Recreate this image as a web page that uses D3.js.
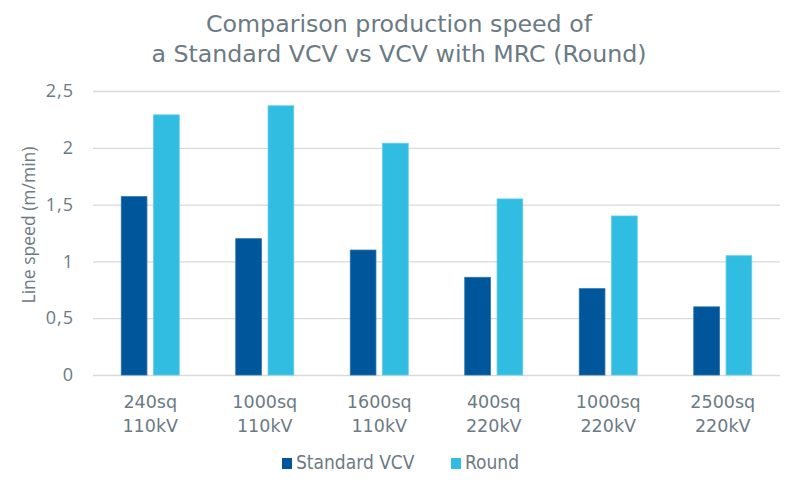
<!DOCTYPE html>
<html><head><meta charset="utf-8">
<script src="https://cdn.jsdelivr.net/npm/d3@7"></script>
<style>body{margin:0;background:#fff}</style>
</head><body>
<svg id="c" width="794" height="485"></svg>
<script>
const categories = [["240sq","110kV"],["1000sq","110kV"],["1600sq","110kV"],["400sq","220kV"],["1000sq","220kV"],["2500sq","220kV"]];
const seriesNames = ["Standard VCV","Round"];
const standardVCV = [1.57,1.2,1.1,0.86,0.76,0.6];
const round = [2.29,2.37,2.04,1.55,1.40,1.05];
const yTicks = [0,0.5,1,1.5,2,2.5];
const yTickLabels = ["0","0,5","1","1,5","2","2,5"];
const titleLines = ["Comparison production speed of","a Standard VCV vs VCV with MRC (Round)"];

const colors = ["#00569A","#31BCE2"];
const strokes = ["#2a70ab","#5fcdea"];
const textColor = "#6b7a83";
const titleFont = "'DejaVu Sans',sans-serif";
const condFont = "'DejaVu Sans Condensed','DejaVu Sans',sans-serif";
const sansFont = "'Open Sans','Noto Sans',sans-serif";

const svg = d3.select("#c");
const m = {left:93, right:14, top:91, bottom:110};
const W = 794, H = 485;
const x = d3.scaleBand().domain(d3.range(categories.length)).range([m.left, W-m.right]).paddingInner(0).paddingOuter(0);
const y = d3.scaleLinear().domain([0,2.5]).range([375, 91]);

// title
svg.append("g").selectAll("text").data(titleLines).join("text")
  .attr("x", 399).attr("y", (d,i)=>32+i*30).attr("text-anchor","middle")
  .attr("font-family", titleFont).attr("font-size", 23.7).attr("fill", textColor).text(d=>d);

// gridlines
svg.append("g").selectAll("line").data(yTicks).join("line")
  .attr("x1", m.left).attr("x2", W-m.right).attr("y1", d=>y(d)+0.5).attr("y2", d=>y(d)+0.5)
  .attr("stroke","#d9d9d9").attr("stroke-width",1.3);

// y axis labels
const yAxis = d3.axisLeft(y).tickValues(yTicks).tickFormat((d,i)=>yTickLabels[i]).tickSize(0).tickPadding(19);
const ya = svg.append("g").attr("transform",`translate(${m.left},0)`).call(yAxis);
ya.select(".domain").remove();
ya.selectAll("text").attr("font-family", sansFont).attr("font-size", 18).attr("letter-spacing", 1).attr("fill", textColor);

// y title
svg.append("text").attr("transform","translate(35,225) rotate(-90)").attr("text-anchor","middle")
  .attr("font-family", sansFont).attr("font-size", 17.5).attr("fill", textColor).text("Line speed (m/min)");

// bars
const barW = 25.7, gap = 6.6;
const data = [standardVCV, round];
data.forEach((vals, s) => {
  svg.append("g").selectAll("rect").data(vals).join("rect")
    .attr("x", (d,i)=> x(i) + x.bandwidth()/2 + (s===0 ? -gap/2 - barW : gap/2))
    .attr("y", d=>y(d)).attr("width", barW).attr("height", d=>y(0)-y(d))
    .attr("fill", colors[s]).attr("stroke", strokes[s]).attr("stroke-width", 0.8);
});

// x labels
const xl = svg.append("g").selectAll("text").data(categories).join("text")
  .attr("x",(d,i)=>x(i)+x.bandwidth()/2).attr("text-anchor","middle")
  .attr("font-family", titleFont).attr("font-size", 17.5).attr("fill", textColor);
xl.each(function(d){
  const t = d3.select(this);
  d.forEach((line,j)=> t.append("tspan").attr("x", t.attr("x")).attr("y", 408 + j*24).text(line));
});

// legend
const legX = [282, 451];
const lg = svg.append("g").selectAll("g").data(seriesNames).join("g")
  .attr("transform",(d,i)=>`translate(${legX[i]},0)`);
lg.append("rect").attr("x",0).attr("y",458).attr("width",10).attr("height",11).attr("fill",(d,i)=>colors[i]);
lg.append("text").attr("x",14).attr("y",469).attr("font-family",condFont).attr("font-size",19)
  .attr("fill",textColor).text(d=>d);
</script>
</body></html>
